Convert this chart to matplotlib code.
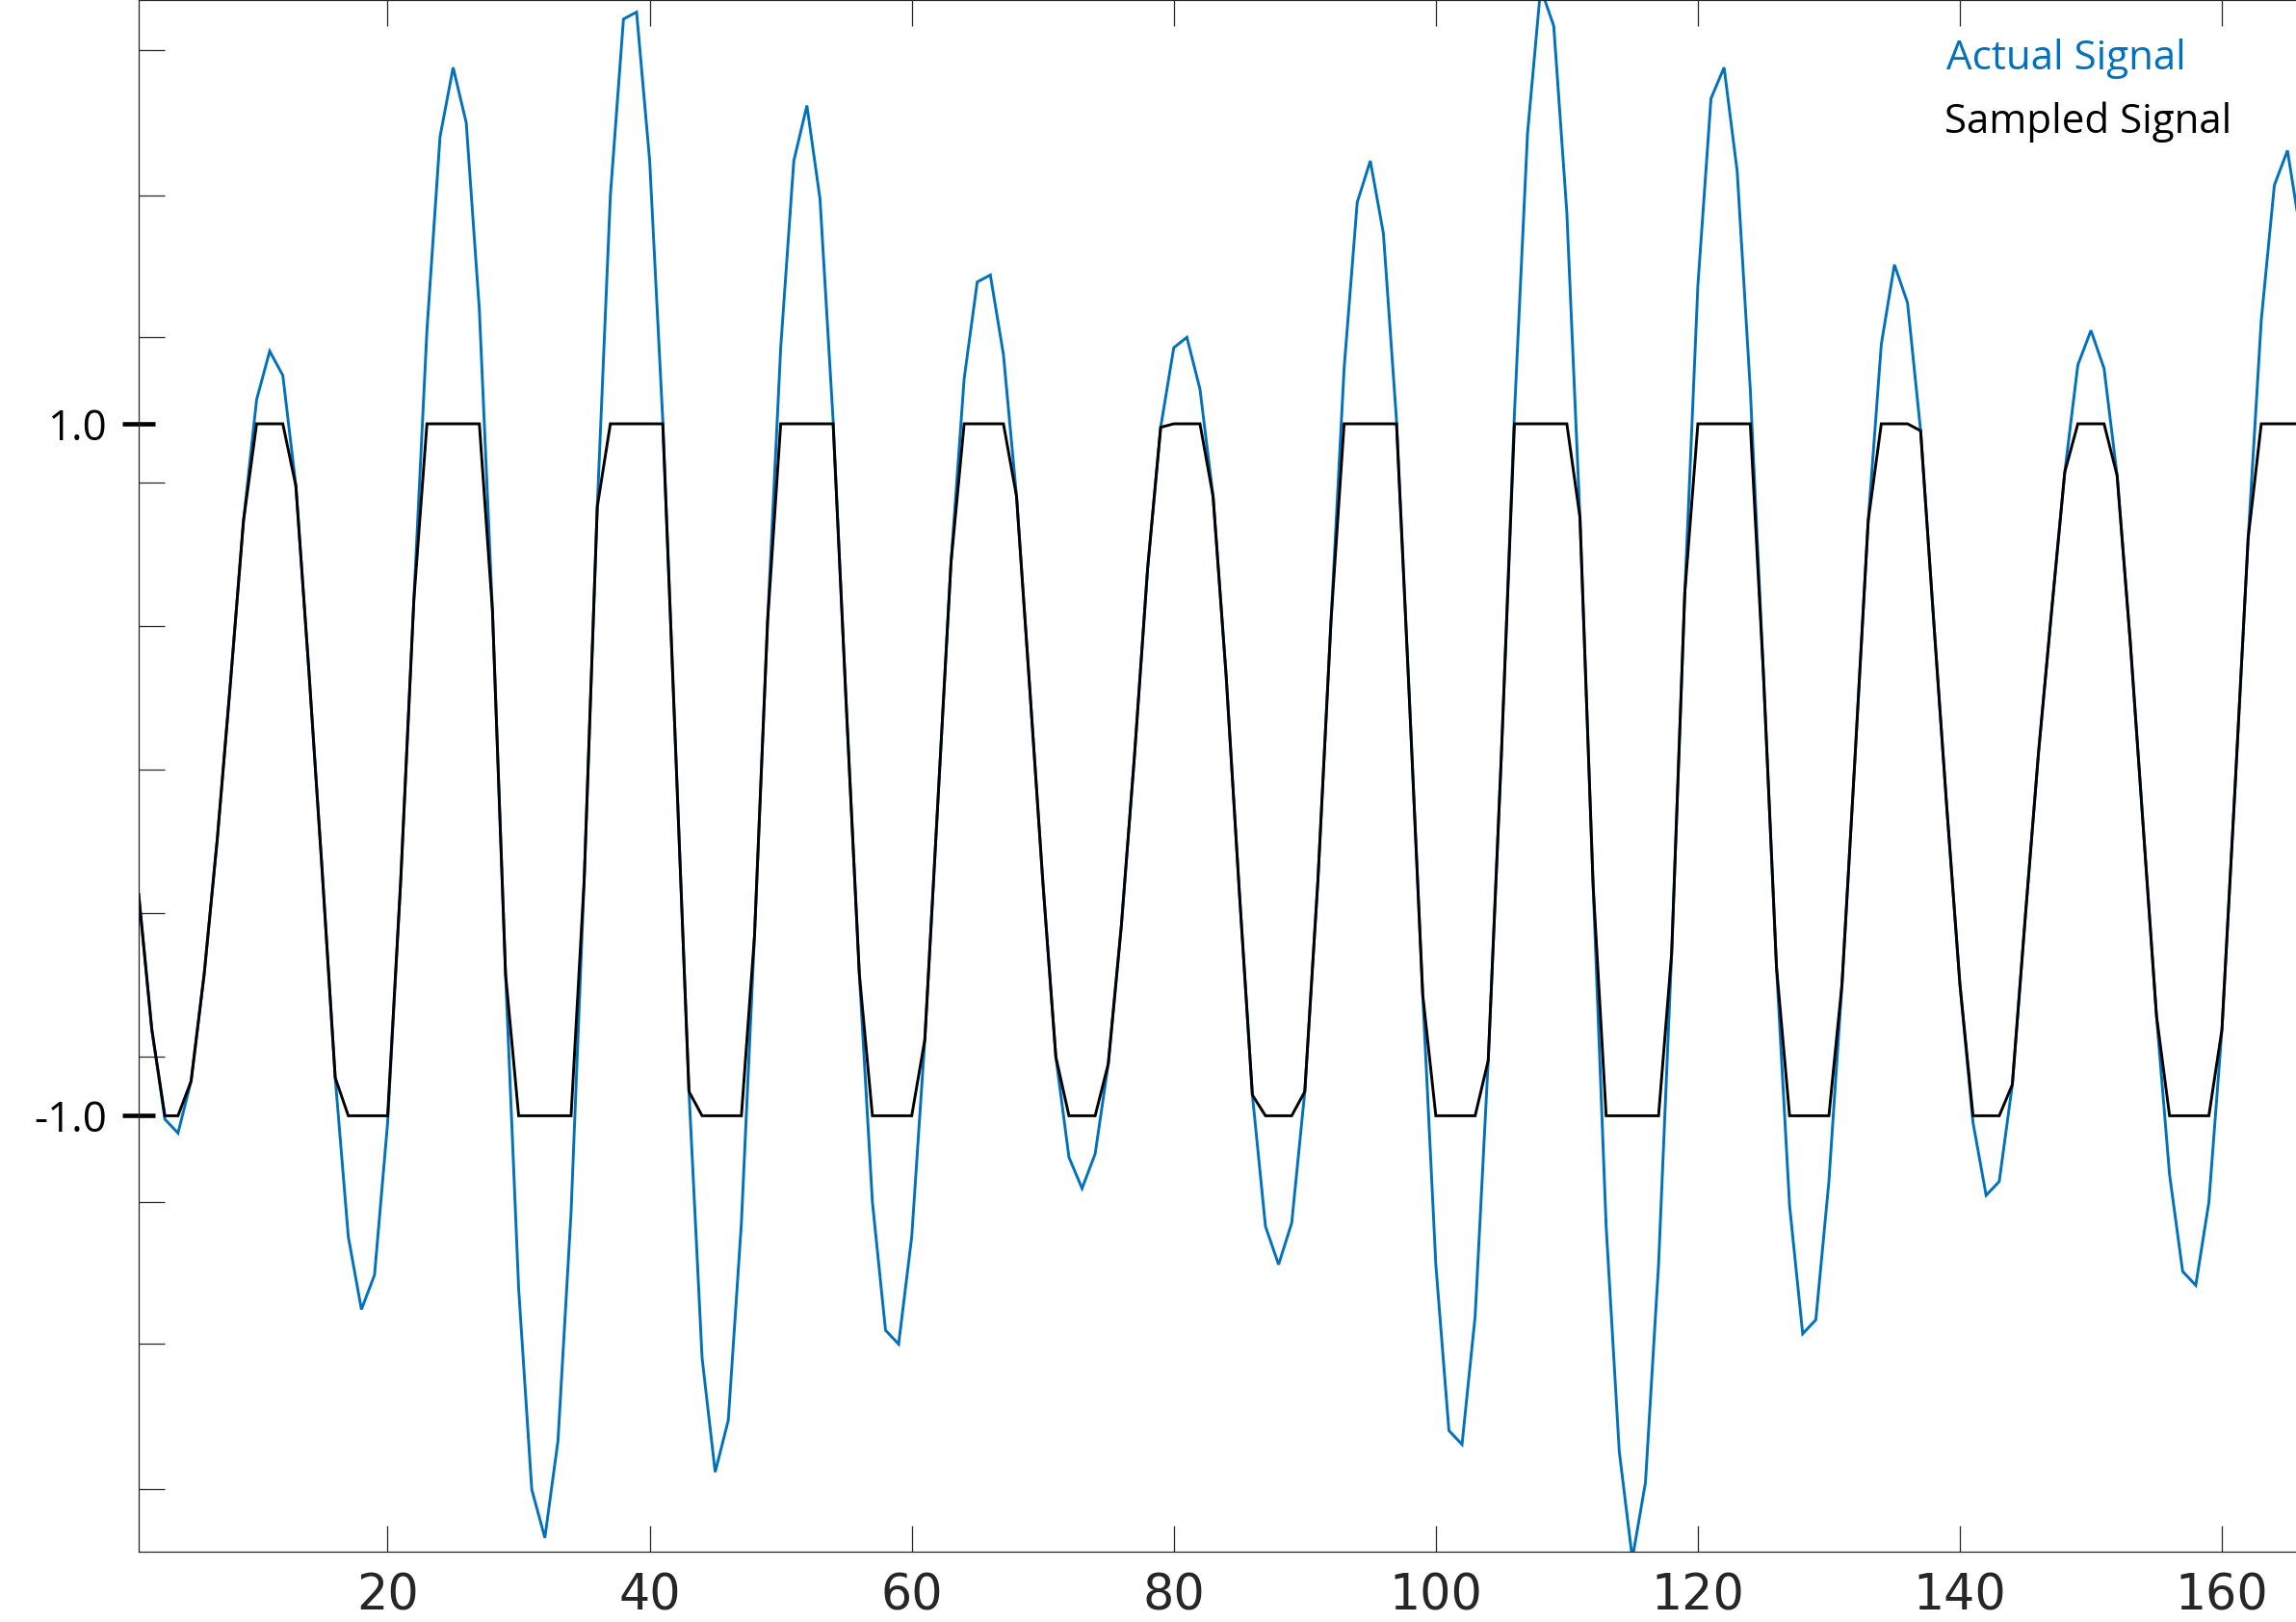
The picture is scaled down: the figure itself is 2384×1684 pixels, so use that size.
import matplotlib
matplotlib.use("Agg")
import matplotlib.pyplot as plt

# ---- data ----
sample_index = list(range(1, 167))

actual_signal = [
    -0.36, -0.75, -1.01, -1.05, -0.90, -0.59, -0.20, 0.25, 0.72, 1.07,
    1.21, 1.14, 0.82, 0.28, -0.29, -0.89, -1.35, -1.56, -1.46, -1.02,
    -0.32, 0.49, 1.27, 1.83, 2.03, 1.87, 1.33, 0.46, -0.59, -1.50,
    -2.08, -2.22, -1.94, -1.28, -0.32, 0.76, 1.66, 2.17, 2.19, 1.76,
    1.01, 0.04, -0.93, -1.70, -2.03, -1.88, -1.31, -0.48, 0.43, 1.22,
    1.76, 1.92, 1.65, 1.01, 0.19, -0.59, -1.25, -1.62, -1.66, -1.35,
    -0.78, -0.09, 0.60, 1.13, 1.41, 1.43, 1.20, 0.79, 0.24, -0.32,
    -0.83, -1.12, -1.21, -1.11, -0.85, -0.45, 0.04, 0.58, 0.99, 1.22,
    1.25, 1.10, 0.79, 0.27, -0.35, -0.94, -1.32, -1.43, -1.31, -0.93,
    -0.32, 0.43, 1.16, 1.64, 1.76, 1.55, 1.01, 0.19, -0.65, -1.43,
    -1.91, -1.95, -1.58, -0.84, 0.04, 1.03, 1.84, 2.26, 2.15, 1.61,
    0.73, -0.33, -1.32, -1.97, -2.28, -2.06, -1.43, -0.53, 0.51, 1.40,
    1.94, 2.03, 1.73, 1.10, 0.28, -0.57, -1.26, -1.63, -1.59, -1.19,
    -0.62, 0.04, 0.72, 1.23, 1.46, 1.35, 0.98, 0.43, -0.11, -0.62,
    -1.02, -1.23, -1.19, -0.91, -0.42, 0.05, 0.46, 0.86, 1.17, 1.27,
    1.16, 0.85, 0.37, -0.17, -0.71, -1.17, -1.45, -1.49, -1.25, -0.75,
    -0.05, 0.67, 1.30, 1.69, 1.79, 1.55,
]

sampled_signal = [
    -0.36, -0.75, -1.00, -1.00, -0.90, -0.59, -0.20, 0.25, 0.72, 1.00,
    1.00, 1.00, 0.82, 0.28, -0.29, -0.89, -1.00, -1.00, -1.00, -1.00,
    -0.32, 0.49, 1.00, 1.00, 1.00, 1.00, 1.00, 0.46, -0.59, -1.00,
    -1.00, -1.00, -1.00, -1.00, -0.32, 0.76, 1.00, 1.00, 1.00, 1.00,
    1.00, 0.04, -0.93, -1.00, -1.00, -1.00, -1.00, -0.48, 0.43, 1.00,
    1.00, 1.00, 1.00, 1.00, 0.19, -0.59, -1.00, -1.00, -1.00, -1.00,
    -0.78, -0.09, 0.60, 1.00, 1.00, 1.00, 1.00, 0.79, 0.24, -0.32,
    -0.83, -1.00, -1.00, -1.00, -0.85, -0.45, 0.04, 0.58, 0.99, 1.00,
    1.00, 1.00, 0.79, 0.27, -0.35, -0.94, -1.00, -1.00, -1.00, -0.93,
    -0.32, 0.43, 1.00, 1.00, 1.00, 1.00, 1.00, 0.19, -0.65, -1.00,
    -1.00, -1.00, -1.00, -0.84, 0.04, 1.00, 1.00, 1.00, 1.00, 1.00,
    0.73, -0.33, -1.00, -1.00, -1.00, -1.00, -1.00, -0.53, 0.51, 1.00,
    1.00, 1.00, 1.00, 1.00, 0.28, -0.57, -1.00, -1.00, -1.00, -1.00,
    -0.62, 0.04, 0.72, 1.00, 1.00, 1.00, 0.98, 0.43, -0.11, -0.62,
    -1.00, -1.00, -1.00, -0.91, -0.42, 0.05, 0.46, 0.86, 1.00, 1.00,
    1.00, 0.85, 0.37, -0.17, -0.71, -1.00, -1.00, -1.00, -1.00, -0.75,
    -0.05, 0.67, 1.00, 1.00, 1.00, 1.00,
]

x_ticks = [20, 40, 60, 80, 100, 120, 140, 160]
x_tick_labels = ["20", "40", "60", "80", "100", "120", "140", "160"]
y_ticks = [-1.0, 1.0]
y_tick_labels = ["-1.0", "1.0"]
y_minor_ticks = [-2.08, -1.66, -1.25, -0.83, -0.415, 0.0, 0.415, 0.83, 1.25, 1.66, 2.08]
legend_labels = ["Actual Signal", "Sampled Signal"]

# ---- style ----
blue = "#0072BD"
axis_gray = "#262626"

fig = plt.figure(figsize=(23.84, 16.84), dpi=100)
ax = fig.add_axes([144 / 2384, (1684 - 1611) / 1684, 1 - 144 / 2384, 1611 / 1684])

ax.plot(sample_index, actual_signal, color=blue, lw=2.1, solid_joinstyle="miter")
ax.plot(sample_index, sampled_signal, color="black", lw=2.1, solid_joinstyle="miter")

ax.set_xlim(1, 165.65)
ax.set_ylim(-2.26, 2.225)

ax.set_xticks(x_ticks)
ax.set_xticklabels(x_tick_labels, family="DejaVu Sans", fontsize=36.5, color=axis_gray)
ax.set_yticks(y_ticks)
ax.set_yticklabels(y_tick_labels, family="Open Sans", fontsize=31.5, color="black")
ax.set_yticks(y_minor_ticks, minor=True)

ax.tick_params(axis="x", which="major", direction="in", top=True, bottom=True,
               length=19.5, width=0.9, color=axis_gray, pad=15.5)
ax.tick_params(axis="y", which="major", direction="inout", length=25, width=3.3,
               color="black", pad=11)
ax.tick_params(axis="y", which="minor", direction="in", length=19.5, width=0.9,
               color=axis_gray, left=True, right=False)

for side in ["left", "top", "bottom"]:
    ax.spines[side].set_color(axis_gray)
    ax.spines[side].set_linewidth(0.9)
ax.spines["right"].set_visible(False)

fig.text(2021 / 2384, 1 - 71.7 / 1684, legend_labels[0], color=blue,
         family="Open Sans", fontsize=30.3, va="baseline", ha="left")
fig.text(2019 / 2384, 1 - 138 / 1684, legend_labels[1], color="black",
         family="Open Sans", fontsize=30.3, va="baseline", ha="left")

fig.savefig("out.png", dpi=100)
